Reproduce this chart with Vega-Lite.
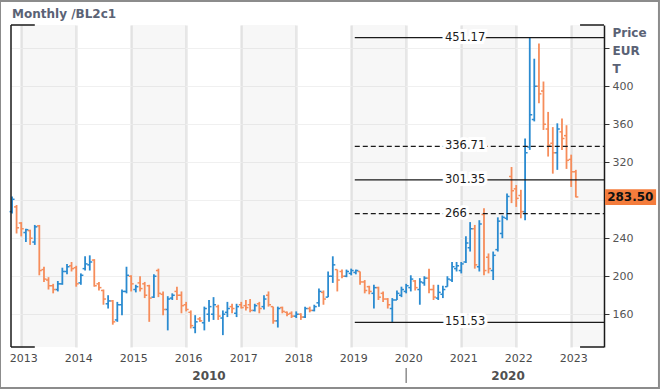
{
  "$schema": "https://vega.github.io/schema/vega-lite/v6.json",
  "width": 593,
  "height": 322,
  "autosize": "none",
  "padding": {"left": 11, "top": 25, "right": 58, "bottom": 44},
  "background": "#ffffff",
  "config": {"view": {"stroke": null}, "font": "DejaVu Sans"},
  "datasets": {
    "ohlc": [
      {"d": "2012-11-01", "o": 268, "h": 284, "l": 266, "c": 281},
      {"d": "2012-12-01", "o": 273, "h": 275, "l": 245, "c": 251},
      {"d": "2013-01-01", "o": 256, "h": 257, "l": 242, "c": 250},
      {"d": "2013-02-01", "o": 246, "h": 250, "l": 236, "c": 249},
      {"d": "2013-03-01", "o": 248, "h": 249, "l": 233, "c": 240},
      {"d": "2013-04-01", "o": 236, "h": 254, "l": 233, "c": 252},
      {"d": "2013-05-01", "o": 253, "h": 254, "l": 201, "c": 206},
      {"d": "2013-06-01", "o": 207, "h": 210, "l": 194, "c": 197},
      {"d": "2013-07-01", "o": 196, "h": 199, "l": 186, "c": 190},
      {"d": "2013-08-01", "o": 190, "h": 192, "l": 182, "c": 186},
      {"d": "2013-09-01", "o": 186, "h": 195, "l": 184, "c": 192},
      {"d": "2013-10-01", "o": 192, "h": 209, "l": 191, "c": 205},
      {"d": "2013-11-01", "o": 205, "h": 213, "l": 202, "c": 210},
      {"d": "2013-12-01", "o": 211, "h": 215, "l": 205, "c": 208},
      {"d": "2014-01-01", "o": 209, "h": 211, "l": 189, "c": 192},
      {"d": "2014-02-01", "o": 193, "h": 203, "l": 191, "c": 201},
      {"d": "2014-03-01", "o": 208, "h": 221, "l": 206, "c": 213},
      {"d": "2014-04-01", "o": 212, "h": 222, "l": 206, "c": 215},
      {"d": "2014-05-01", "o": 217, "h": 218, "l": 189, "c": 190},
      {"d": "2014-06-01", "o": 192, "h": 194, "l": 185, "c": 188},
      {"d": "2014-07-01", "o": 185, "h": 186, "l": 170, "c": 176},
      {"d": "2014-08-01", "o": 171, "h": 180, "l": 166, "c": 174},
      {"d": "2014-09-01", "o": 174, "h": 175, "l": 149, "c": 152},
      {"d": "2014-10-01", "o": 154, "h": 173, "l": 152, "c": 170},
      {"d": "2014-11-01", "o": 170, "h": 186, "l": 159, "c": 184},
      {"d": "2014-12-01", "o": 184, "h": 210, "l": 182, "c": 201},
      {"d": "2015-01-01", "o": 200, "h": 201, "l": 184, "c": 192},
      {"d": "2015-02-01", "o": 186, "h": 191, "l": 183, "c": 189},
      {"d": "2015-03-01", "o": 193, "h": 200, "l": 184, "c": 187},
      {"d": "2015-04-01", "o": 192, "h": 194, "l": 177, "c": 180},
      {"d": "2015-05-01", "o": 190, "h": 191, "l": 152, "c": 177},
      {"d": "2015-06-01", "o": 178, "h": 202, "l": 177, "c": 200},
      {"d": "2015-07-01", "o": 206, "h": 208, "l": 178, "c": 182},
      {"d": "2015-08-01", "o": 181, "h": 184, "l": 159, "c": 165},
      {"d": "2015-09-01", "o": 165, "h": 179, "l": 143, "c": 176},
      {"d": "2015-10-01", "o": 177, "h": 182, "l": 175, "c": 180},
      {"d": "2015-11-01", "o": 184, "h": 189, "l": 175, "c": 180},
      {"d": "2015-12-01", "o": 180, "h": 184, "l": 161, "c": 169},
      {"d": "2016-01-01", "o": 170, "h": 173, "l": 163, "c": 165},
      {"d": "2016-02-01", "o": 162, "h": 164, "l": 145, "c": 148},
      {"d": "2016-03-01", "o": 146, "h": 159, "l": 140, "c": 152},
      {"d": "2016-04-01", "o": 155, "h": 157, "l": 152, "c": 153},
      {"d": "2016-05-01", "o": 151, "h": 168, "l": 143, "c": 166},
      {"d": "2016-06-01", "o": 160, "h": 175, "l": 152, "c": 168},
      {"d": "2016-07-01", "o": 160, "h": 178, "l": 154, "c": 170},
      {"d": "2016-08-01", "o": 168, "h": 170, "l": 154, "c": 158},
      {"d": "2016-09-01", "o": 156, "h": 164, "l": 138, "c": 160},
      {"d": "2016-10-01", "o": 162, "h": 173, "l": 157, "c": 166},
      {"d": "2016-11-01", "o": 168, "h": 171, "l": 161, "c": 166},
      {"d": "2016-12-01", "o": 161, "h": 171, "l": 157, "c": 168},
      {"d": "2017-01-01", "o": 170, "h": 173, "l": 166, "c": 167},
      {"d": "2017-02-01", "o": 169, "h": 175, "l": 164, "c": 167},
      {"d": "2017-03-01", "o": 170, "h": 176, "l": 162, "c": 164},
      {"d": "2017-04-01", "o": 164, "h": 171, "l": 163, "c": 169},
      {"d": "2017-05-01", "o": 171, "h": 173, "l": 161, "c": 166},
      {"d": "2017-06-01", "o": 168, "h": 180, "l": 165, "c": 176},
      {"d": "2017-07-01", "o": 180, "h": 184, "l": 168, "c": 170},
      {"d": "2017-08-01", "o": 168, "h": 168, "l": 150, "c": 153},
      {"d": "2017-09-01", "o": 153, "h": 168, "l": 146, "c": 166},
      {"d": "2017-10-01", "o": 167, "h": 168, "l": 161, "c": 163},
      {"d": "2017-11-01", "o": 162, "h": 163, "l": 158, "c": 160},
      {"d": "2017-12-01", "o": 161, "h": 163, "l": 156, "c": 158},
      {"d": "2018-01-01", "o": 158, "h": 163, "l": 156, "c": 160},
      {"d": "2018-02-01", "o": 160, "h": 161, "l": 154, "c": 157},
      {"d": "2018-03-01", "o": 157, "h": 168, "l": 156, "c": 166},
      {"d": "2018-04-01", "o": 166, "h": 168, "l": 162, "c": 164},
      {"d": "2018-05-01", "o": 164, "h": 170, "l": 163, "c": 168},
      {"d": "2018-06-01", "o": 172, "h": 187, "l": 168, "c": 184},
      {"d": "2018-07-01", "o": 183, "h": 185, "l": 170, "c": 176},
      {"d": "2018-08-01", "o": 178, "h": 205, "l": 178, "c": 200},
      {"d": "2018-09-01", "o": 200, "h": 221, "l": 193, "c": 212},
      {"d": "2018-10-01", "o": 207, "h": 207, "l": 184, "c": 196},
      {"d": "2018-11-01", "o": 205, "h": 207, "l": 198, "c": 200},
      {"d": "2018-12-01", "o": 200, "h": 207, "l": 199, "c": 205},
      {"d": "2019-01-01", "o": 203, "h": 208, "l": 201, "c": 206},
      {"d": "2019-02-01", "o": 204, "h": 207, "l": 202, "c": 206},
      {"d": "2019-03-01", "o": 205, "h": 205, "l": 191, "c": 194},
      {"d": "2019-04-01", "o": 194, "h": 196, "l": 182, "c": 185},
      {"d": "2019-05-01", "o": 189, "h": 190, "l": 181, "c": 184},
      {"d": "2019-06-01", "o": 182, "h": 191, "l": 166, "c": 188},
      {"d": "2019-07-01", "o": 188, "h": 189, "l": 175, "c": 178},
      {"d": "2019-08-01", "o": 182, "h": 184, "l": 173, "c": 176},
      {"d": "2019-09-01", "o": 176, "h": 177, "l": 166, "c": 170},
      {"d": "2019-10-01", "o": 166, "h": 177, "l": 151.53, "c": 175},
      {"d": "2019-11-01", "o": 175, "h": 185, "l": 175, "c": 182},
      {"d": "2019-12-01", "o": 180, "h": 189, "l": 178, "c": 186},
      {"d": "2020-01-01", "o": 184, "h": 192, "l": 182, "c": 190},
      {"d": "2020-02-01", "o": 188, "h": 201, "l": 184, "c": 197},
      {"d": "2020-03-01", "o": 195, "h": 196, "l": 185, "c": 188},
      {"d": "2020-04-01", "o": 186, "h": 198, "l": 170, "c": 194},
      {"d": "2020-05-01", "o": 193, "h": 200, "l": 190, "c": 198},
      {"d": "2020-06-01", "o": 198, "h": 208, "l": 182, "c": 186},
      {"d": "2020-07-01", "o": 186, "h": 191, "l": 175, "c": 178},
      {"d": "2020-08-01", "o": 177, "h": 191, "l": 175, "c": 183},
      {"d": "2020-09-01", "o": 181, "h": 190, "l": 177, "c": 186},
      {"d": "2020-10-01", "o": 189, "h": 200, "l": 189, "c": 197},
      {"d": "2020-11-01", "o": 196, "h": 215, "l": 194, "c": 210},
      {"d": "2020-12-01", "o": 208, "h": 215, "l": 205, "c": 211},
      {"d": "2021-01-01", "o": 206, "h": 215, "l": 203, "c": 213},
      {"d": "2021-02-01", "o": 215, "h": 242, "l": 214, "c": 235},
      {"d": "2021-03-01", "o": 230, "h": 257, "l": 226, "c": 250},
      {"d": "2021-04-01", "o": 250, "h": 254, "l": 208, "c": 212},
      {"d": "2021-05-01", "o": 210, "h": 259, "l": 205, "c": 255},
      {"d": "2021-06-01", "o": 265, "h": 271.5, "l": 201, "c": 206},
      {"d": "2021-07-01", "o": 220, "h": 224, "l": 203, "c": 208},
      {"d": "2021-08-01", "o": 206, "h": 226, "l": 196, "c": 222},
      {"d": "2021-09-01", "o": 228, "h": 262, "l": 226, "c": 258},
      {"d": "2021-10-01", "o": 245, "h": 264, "l": 240, "c": 262},
      {"d": "2021-11-01", "o": 261, "h": 287, "l": 259, "c": 284},
      {"d": "2021-12-01", "o": 305, "h": 315, "l": 277, "c": 290},
      {"d": "2022-01-01", "o": 292, "h": 296, "l": 273, "c": 282},
      {"d": "2022-02-01", "o": 285, "h": 291, "l": 261, "c": 268},
      {"d": "2022-03-01", "o": 268, "h": 345, "l": 259, "c": 330},
      {"d": "2022-04-01", "o": 336, "h": 451.17, "l": 333, "c": 370},
      {"d": "2022-05-01", "o": 365, "h": 429, "l": 363, "c": 400},
      {"d": "2022-06-01", "o": 400, "h": 445, "l": 382, "c": 392},
      {"d": "2022-07-01", "o": 395, "h": 405, "l": 354, "c": 360},
      {"d": "2022-08-01", "o": 355, "h": 373, "l": 326, "c": 338},
      {"d": "2022-09-01", "o": 340, "h": 357, "l": 308, "c": 330},
      {"d": "2022-10-01", "o": 330, "h": 361, "l": 312, "c": 355},
      {"d": "2022-11-01", "o": 352, "h": 366, "l": 333, "c": 345},
      {"d": "2022-12-01", "o": 348, "h": 359, "l": 313, "c": 322},
      {"d": "2023-01-01", "o": 323, "h": 328, "l": 294, "c": 310},
      {"d": "2023-02-01", "o": 310, "h": 312, "l": 283, "c": 283.5}
    ],
    "fib": [
      {"level": 451.17, "label": "451.17", "style": "solid"},
      {"level": 336.71, "label": "336.71", "style": "dashed"},
      {"level": 301.35, "label": "301.35", "style": "solid"},
      {"level": 266, "label": "266", "style": "dashed"},
      {"level": 151.53, "label": "151.53", "style": "solid"}
    ],
    "bands": [
      {"start": "2013-01-01", "end": "2014-01-01"},
      {"start": "2015-01-01", "end": "2016-01-01"},
      {"start": "2017-01-01", "end": "2018-01-01"},
      {"start": "2019-01-01", "end": "2020-01-01"},
      {"start": "2021-01-01", "end": "2022-01-01"},
      {"start": "2023-01-01", "end": "2024-01-01"}
    ],
    "decades": [
      {"mid": "2016-06-01", "decade": "2010"},
      {"mid": "2021-11-08", "decade": "2020"}
    ],
    "one": [{}]
  },
  "layer": [
    {
      "data": {"name": "bands"},
      "mark": {"type": "rect", "fill": "#000000", "opacity": 0.03, "clip": true},
      "encoding": {
        "x": {"field": "start", "type": "temporal"},
        "x2": {"field": "end"}
      }
    },
    {
      "data": {"name": "ohlc"},
      "mark": {"type": "rule", "strokeWidth": 1.8},
      "encoding": {
        "x": {
          "field": "d", "type": "temporal",
          "scale": {"type": "utc", "domain": [{"year": 2012, "month": 10, "date": 25, "utc": true}, {"year": 2023, "month": 8, "date": 7, "utc": true}]},
          "axis": {
            "values": [
              {"year": 2013, "month": 1, "date": 1, "utc": true},
              {"year": 2014, "month": 1, "date": 1, "utc": true},
              {"year": 2015, "month": 1, "date": 1, "utc": true},
              {"year": 2016, "month": 1, "date": 1, "utc": true},
              {"year": 2017, "month": 1, "date": 1, "utc": true},
              {"year": 2018, "month": 1, "date": 1, "utc": true},
              {"year": 2019, "month": 1, "date": 1, "utc": true},
              {"year": 2020, "month": 1, "date": 1, "utc": true},
              {"year": 2021, "month": 1, "date": 1, "utc": true},
              {"year": 2022, "month": 1, "date": 1, "utc": true},
              {"year": 2023, "month": 1, "date": 1, "utc": true}
            ],
            "format": "%Y",
            "title": null,
            "domain": false,
            "ticks": false,
            "labelPadding": 5,
            "labelOffset": 2,
            "labelFontSize": 11,
            "labelColor": "#4a4a4a",
            "labelFlush": false,
            "labelOverlap": false,
            "grid": true,
            "gridColor": "#e8e8e8",
            "gridWidth": 2.5
          }
        },
        "y": {
          "field": "l", "type": "quantitative",
          "scale": {"domain": [125.5, 464.5], "zero": false, "nice": false},
          "axis": {
            "orient": "right",
            "values": [160, 200, 240, 280, 320, 360, 400, 440],
            "labelExpr": "datum.value == 440 || datum.value == 280 ? '' : datum.label",
            "grid": true,
            "gridColor": "#f0f0f0",
            "domainColor": "#1a1a1a",
            "domainWidth": 1.5,
            "tickColor": "#333333",
            "tickSize": 5,
            "labelPadding": 3,
            "labelFontSize": 11,
            "labelColor": "#555555",
            "title": ["Price", "EUR", "T"],
            "titleAngle": 0,
            "titleAlign": "left",
            "titleBaseline": "top",
            "titleX": 8,
            "titleY": 2,
            "titleFontSize": 12,
            "titleFontWeight": "bold",
            "titleColor": "#5a6275",
            "titleLineHeight": 18
          }
        },
        "y2": {"field": "h"},
        "color": {"condition": {"test": "datum.c >= datum.o", "value": "#2b8bd0"}, "value": "#f68d5b"}
      }
    },
    {
      "data": {"name": "ohlc"},
      "mark": {"type": "rule", "strokeWidth": 1.5, "xOffset": -2.5},
      "encoding": {
        "x": {"field": "d", "type": "temporal"},
        "x2": {"field": "d"},
        "y": {"field": "o", "type": "quantitative"},
        "color": {"condition": {"test": "datum.c >= datum.o", "value": "#2b8bd0"}, "value": "#f68d5b"}
      }
    },
    {
      "data": {"name": "ohlc"},
      "mark": {"type": "rule", "strokeWidth": 1.5, "x2Offset": 2.5},
      "encoding": {
        "x": {"field": "d", "type": "temporal"},
        "x2": {"field": "d"},
        "y": {"field": "c", "type": "quantitative"},
        "color": {"condition": {"test": "datum.c >= datum.o", "value": "#2b8bd0"}, "value": "#f68d5b"}
      }
    },
    {
      "data": {"name": "fib"},
      "mark": {"type": "rule", "color": "#1a1a1a", "strokeWidth": 1.3},
      "encoding": {
        "x": {"datum": {"year": 2019, "month": 1, "date": 25, "utc": true}, "type": "temporal"},
        "x2": {"datum": {"year": 2023, "month": 8, "date": 7, "utc": true}},
        "y": {"field": "level", "type": "quantitative"},
        "strokeDash": {"field": "style", "type": "nominal", "scale": {"domain": ["solid", "dashed"], "range": [[1, 0], [5, 3]]}, "legend": null}
      }
    },
    {
      "data": {"name": "fib"},
      "mark": {"type": "text", "align": "left", "baseline": "middle", "fontSize": 11.5, "fill": "#ffffff", "stroke": "#ffffff", "strokeWidth": 6},
      "encoding": {
        "x": {"datum": {"year": 2020, "month": 9, "date": 15, "utc": true}, "type": "temporal"},
        "y": {"field": "level", "type": "quantitative"},
        "text": {"field": "label"}
      }
    },
    {
      "data": {"name": "fib"},
      "mark": {"type": "text", "align": "left", "baseline": "middle", "fontSize": 11.5, "color": "#1a1a1a"},
      "encoding": {
        "x": {"datum": {"year": 2020, "month": 9, "date": 15, "utc": true}, "type": "temporal"},
        "y": {"field": "level", "type": "quantitative"},
        "text": {"field": "label"}
      }
    },
    {
      "data": {"name": "one"},
      "mark": {"type": "rule", "color": "#1a1a1a", "strokeWidth": 1.5},
      "encoding": {
        "x": {"datum": {"year": 2012, "month": 10, "date": 25, "utc": true}, "type": "temporal"},
        "y": {"datum": 125.5, "type": "quantitative"},
        "y2": {"datum": 464.5}
      }
    },
    {
      "data": {"name": "one"},
      "mark": {"type": "rule", "color": "#1a1a1a", "strokeWidth": 1.5},
      "encoding": {
        "x": {"datum": {"year": 2012, "month": 10, "date": 25, "utc": true}, "type": "temporal"},
        "x2": {"datum": {"year": 2013, "month": 4, "date": 1, "utc": true}},
        "y": {"datum": 464.5, "type": "quantitative"}
      }
    },
    {
      "data": {"name": "one"},
      "mark": {"type": "rule", "color": "#1a1a1a", "strokeWidth": 1.5},
      "encoding": {
        "x": {"datum": {"year": 2012, "month": 10, "date": 25, "utc": true}, "type": "temporal"},
        "x2": {"datum": {"year": 2013, "month": 4, "date": 1, "utc": true}},
        "y": {"datum": 125.5, "type": "quantitative"}
      }
    },
    {
      "data": {"name": "one"},
      "mark": {"type": "rule", "color": "#1a1a1a", "strokeWidth": 1.5},
      "encoding": {
        "x": {"datum": {"year": 2023, "month": 3, "date": 1, "utc": true}, "type": "temporal"},
        "x2": {"datum": {"year": 2023, "month": 8, "date": 7, "utc": true}},
        "y": {"datum": 464.5, "type": "quantitative"}
      }
    },
    {
      "data": {"name": "one"},
      "mark": {"type": "rule", "color": "#1a1a1a", "strokeWidth": 1.5},
      "encoding": {
        "x": {"datum": {"year": 2023, "month": 3, "date": 1, "utc": true}, "type": "temporal"},
        "x2": {"datum": {"year": 2023, "month": 8, "date": 7, "utc": true}},
        "y": {"datum": 125.5, "type": "quantitative"}
      }
    },
    {
      "data": {"name": "one"},
      "mark": {"type": "rect", "fill": "#f47c3c"},
      "encoding": {
        "x": {"datum": {"year": 2023, "month": 8, "date": 14, "utc": true}, "type": "temporal"},
        "x2": {"datum": {"year": 2024, "month": 7, "date": 18, "utc": true}},
        "y": {"datum": 291.5, "type": "quantitative"},
        "y2": {"datum": 275}
      }
    },
    {
      "data": {"name": "one"},
      "mark": {"type": "text", "align": "left", "baseline": "middle", "fontSize": 12, "fontWeight": "bold", "color": "#111111", "text": "283.50"},
      "encoding": {
        "x": {"datum": {"year": 2023, "month": 8, "date": 28, "utc": true}, "type": "temporal"},
        "y": {"datum": 283.5, "type": "quantitative"}
      }
    },
    {
      "data": {"name": "one"},
      "mark": {"type": "text", "align": "left", "baseline": "middle", "fontSize": 12, "fontWeight": "bold", "color": "#5a6275", "text": "Monthly /BL2c1"},
      "encoding": {
        "x": {"datum": {"year": 2012, "month": 11, "date": 1, "utc": true}, "type": "temporal"},
        "y": {"datum": 476, "type": "quantitative"}
      }
    },
    {
      "data": {"name": "decades"},
      "mark": {"type": "text", "align": "center", "baseline": "middle", "fontSize": 12, "fontWeight": "bold", "color": "#505050"},
      "encoding": {
        "x": {"field": "mid", "type": "temporal"},
        "y": {"datum": 95, "type": "quantitative"},
        "text": {"field": "decade"}
      }
    },
    {
      "data": {"name": "one"},
      "mark": {"type": "rule", "color": "#555555", "strokeWidth": 1},
      "encoding": {
        "x": {"datum": {"year": 2020, "month": 1, "date": 1, "utc": true}, "type": "temporal"},
        "y": {"datum": 103.4, "type": "quantitative"},
        "y2": {"datum": 87.6}
      }
    },
    {
      "data": {"name": "one"},
      "mark": {"type": "rect", "fill": "#ffffff", "fillOpacity": 0, "stroke": "#8c8c8c", "strokeWidth": 2},
      "encoding": {
        "x": {"datum": {"year": 2012, "month": 8, "date": 13, "utc": true}, "type": "temporal"},
        "x2": {"datum": {"year": 2024, "month": 8, "date": 6, "utc": true}},
        "y": {"datum": 489.7, "type": "quantitative"},
        "y2": {"datum": 82.4}
      }
    }
  ]
}
